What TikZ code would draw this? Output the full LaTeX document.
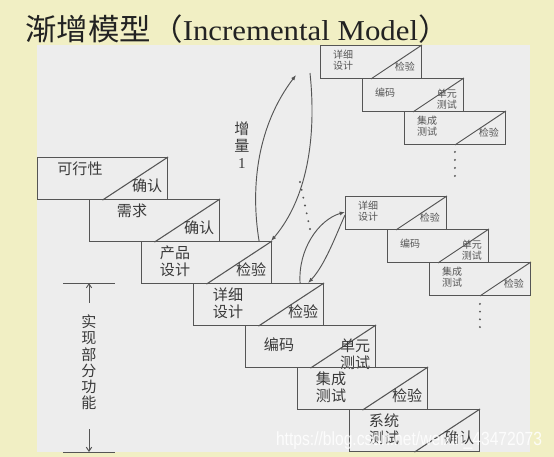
\documentclass[tikz,border=0pt]{standalone}
\usepackage{fontspec}
\setmainfont{Liberation Serif}
\newfontfamily\cjk{Noto Sans CJK SC}
\newfontfamily\titlecjk[FakeStretch=1.05]{Noto Sans CJK SC}
\newfontfamily\titlerm[FakeStretch=1.07]{Liberation Serif}
\newfontfamily\wmfont[FakeStretch=0.82]{Liberation Sans}
\usetikzlibrary{arrows.meta}
\definecolor{bgyellow}{HTML}{F1EFC4}
\definecolor{panelgray}{HTML}{EDEDED}
\definecolor{ink}{HTML}{555555}
\definecolor{txt}{HTML}{3A3A3A}
\definecolor{titletxt}{HTML}{222222}

\begin{document}
\begin{tikzpicture}[x=0.75pt,y=-0.75pt,
    bigbox/.style={draw=ink, line width=0.8pt, minimum width=97.5pt, minimum height=31.5pt, inner sep=0pt, anchor=north west},
    smallbox/.style={draw=ink, line width=0.7pt, minimum width=75.75pt, minimum height=24.75pt, inner sep=0pt, anchor=north west},
    biglabel/.style={text=txt, font=\fontsize{11.3}{12.5}\selectfont\cjk, align=left, inner sep=0pt},
    smalllabel/.style={text=ink, font=\fontsize{7.5}{8.3}\selectfont\cjk, align=left, inner sep=0pt},
    tip/.style={draw=ink, line width=0.7pt, -{Latex[length=4pt,width=3pt]}},
    bar/.style={draw=ink, line width=0.7pt}]
    \fill[bgyellow] (0,0) rectangle (554,457);
    \fill[panelgray] (37,45) rectangle (530,452);
    \useasboundingbox (0,0) rectangle (554,457);

    \node[anchor=base west, inner sep=0pt, text=titletxt, font=\fontsize{22.5}{26}\selectfont] (title) at (25,40)
        {{\titlecjk 渐增模型（}{\titlerm\fontsize{21.6}{26}\selectfont Incremental Model}{\titlecjk ）}};

    \foreach \i/\lx/\ly/\l/\r in {1/43/12/可行性/确认, 2/43/12/需求/确认, 3/34/20/{产品\\设计}/检验,
        4/35/20/{详细\\设计}/检验, 5/34/20/编码/{单元\\测试}, 6/34/20/{集成\\测试}/检验, 7/35/20/{系统\\测试}/确认}{
        \node[bigbox] (b\i) at ({37+52*(\i-1)},{157+42*(\i-1)}) {};
        \draw[bar, line width=0.8pt] (b\i.south) -- (b\i.north east);
        \node[biglabel] (b\i l) at ([shift={(\lx,\ly)}]b\i.north west) {\l};
        \node[biglabel] (b\i r) at ([shift={(-21,-14)}]b\i.south east) {\r};
    }

    \foreach \s/\x/\y in {u/320/45, m/345/196}
        \foreach \i/\l/\r in {0/{详细\\设计}/检验, 1/编码/{单元\\测试}, 2/{集成\\测试}/检验}{
            \node[smallbox] (\s\i) at ({\x+42*\i},{\y+33*\i}) {};
            \draw[bar] (\s\i.south) -- (\s\i.north east);
            \node[smalllabel] (\s\i l) at ([shift={(23,15)}]\s\i.north west) {\l};
            \node[smalllabel] (\s\i r) at ([shift={(-17,-12.5)}]\s\i.south east) {\r};
        }
    \foreach \k in {0,...,3}{
        \fill[ink] ([shift={(0,7+8*\k)}]u2.south) circle[radius=0.8pt];
        \fill[ink] ([shift={(0,8+7.7*\k)}]m2.south) circle[radius=0.8pt];
    }

    \coordinate (up1) at (296,75);
    \coordinate (up2) at (310,73);
    \draw[tip] ([shift={(-13,0)}]b3.north east) .. controls (250,185) and (258,125) .. (up1);
    \draw[tip] (up2) .. controls (316,130) and (310,195) .. ([shift={(-1,0)}]b3.north east);
    \node[biglabel, align=center, font=\fontsize{11.3}{12.8}\selectfont\cjk] (inc) at (242,145) {增\\量\\{\rmfamily 1}};
    \foreach \k in {0,...,6}
        \fill[ink] ({300+10*\k/6},{182+47*\k/6}) circle[radius=0.8pt];

    \draw[tip] ([shift={(-24,0)}]b4.north east) .. controls (298,250) and (318,220) .. ([shift={(0,-1)}]m0.west);
    \draw[tip] ([shift={(0,2)}]m0.west) .. controls (336,235) and (325,265) .. ([shift={(-16,0)}]b4.north east);

    \node[biglabel, align=center, font=\fontsize{11.3}{12.15}\selectfont\cjk] (part) at (89,362.5) {实\\现\\部\\分\\功\\能};
    \coordinate (ptop) at (89,283);
    \coordinate (pbot) at (89,452);
    \draw[bar] ([shift={(-26,0)}]ptop) -- ([shift={(26,0)}]ptop);
    \draw[bar] ([shift={(-26,0)}]pbot) -- ([shift={(26,0)}]pbot);
    \draw[bar, -{Straight Barb[length=3pt,width=4pt]}] ([shift={(0,-12)}]part.north) -- (ptop);
    \draw[bar, -{Straight Barb[length=3pt,width=4pt]}] ([shift={(0,19)}]part.south) -- (pbot);

    \node[text=white, opacity=0.85, font=\fontsize{14.3}{16}\selectfont\wmfont] (wm) at (409,441) {https://blog.csdn.net/weixin\_43472073};
\end{tikzpicture}
\end{document}
